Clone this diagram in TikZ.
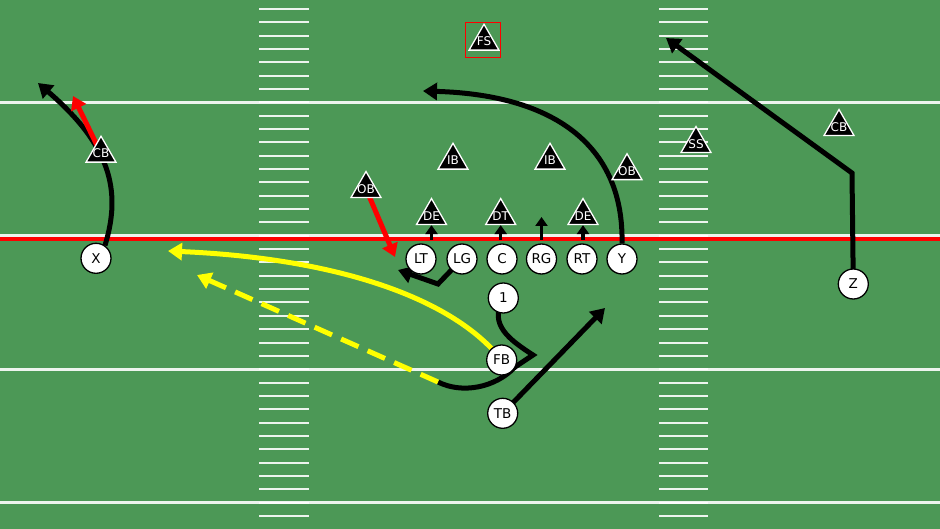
\documentclass[tikz,border=0pt]{standalone}
\usepackage{fontspec}
\setmainfont{DejaVu Sans}
\usetikzlibrary{arrows.meta,shapes.geometric}
\definecolor{grass}{RGB}{76,152,86}
\definecolor{ylw}{RGB}{255,255,0}
\definecolor{rd}{RGB}{255,0,0}
\pgfdeclarelayer{field}
\pgfdeclarelayer{routes}
\pgfsetlayers{field,routes,main}
\begin{document}
\begin{tikzpicture}[x=1pt,y=-1pt,
  player/.style={circle,draw=black,line width=1.3pt,fill=white,minimum size=30pt,inner sep=0pt,font=\fontsize{13.5}{13.5}\selectfont},
  defender/.style={regular polygon,regular polygon sides=3,draw=white,line width=1.3pt,fill=black,minimum size=34.5pt,inner sep=0pt},
  deftext/.style={text=white,inner sep=0pt,font=\fontsize{12}{12}\selectfont},
  route/.style={line width=5pt,draw=black,-{Triangle[length=14pt,width=17pt]}},
  plain/.style={line width=5pt,draw=black},
  redroute/.style={line width=5pt,draw=rd,-{Triangle[length=13pt,width=16pt]}},
  yroute/.style={line width=5pt,draw=ylw,-{Triangle[length=14pt,width=17pt]}},
  push/.style={line width=3.5pt,draw=black,-{Triangle[length=9pt,width=12pt]}},
  hash/.style={draw=white,line width=2pt,opacity=0.9},
  yard/.style={draw=white,line width=3pt,opacity=0.9}
]
\useasboundingbox (0,0) rectangle (940,529);
\clip (0,0) rectangle (940,529);
% players (offense)
\node[player] (x)  at (96,258.3) {X};
\node[player] (lt) at (421,259) {LT};
\node[player] (lg) at (462,259) {LG};
\node[player] (c)  at (502,259) {C};
\node[player] (rg) at (541.5,259) {RG};
\node[player] (rt) at (582,259) {RT};
\node[player] (y)  at (622,259) {Y};
\node[player] (z)  at (853.3,284) {Z};
\node[player] (qb) at (503.3,298) {1};
\node[player] (fb) at (501.7,360) {FB};
\node[player] (tb) at (502.7,413.3) {TB};

% defenders
\node[defender,label={[deftext]center:CB}] (cb1) at (101,153.5) {};
\node[defender,label={[deftext]center:FS}] (fs)  at (484,41.5) {};
\node[draw=rd,line width=1.5pt,minimum size=35pt,inner sep=0pt] (fsbox) at (483.2,40.2) {};
\node[defender,label={[deftext]center:IB}] (ib1) at (453,160.5) {};
\node[defender,label={[deftext]center:IB}] (ib2) at (550,160.5) {};
\node[defender,label={[deftext]center:OB}] (ob1) at (366,188.8) {};
\node[defender,label={[deftext]center:OB}] (ob2) at (627,171) {};
\node[defender,label={[deftext]center:SS}] (ss)  at (696,143.8) {};
\node[defender,label={[deftext]center:CB}] (cb2) at (839,126.8) {};
\node[defender,label={[deftext]center:DE}] (de1) at (431.5,215.8) {};
\node[defender,label={[deftext]center:DT}] (dt)  at (500.7,215.8) {};
\node[defender,label={[deftext]center:DE}] (de2) at (583,215.8) {};

% free route ends
\coordinate (xend) at (38,83);
\coordinate (cbend) at (73,96);
\coordinate (obend) at (395,257);
\coordinate (yend) at (423,91);
\coordinate (zturn) at (852,173);
\coordinate (zend) at (666,38);
\coordinate (tbend) at (605,308);
\coordinate (lgturn) at (438,284);
\coordinate (lgend) at (398,270);
\coordinate (qbturn) at (533,355);
\coordinate (qbback) at (515,367);
\coordinate (pa) at (438,382);
\coordinate (fbend) at (168,251);
\coordinate (paend) at (197,275);
\coordinate (los1) at (431.5,240);
\coordinate (los2) at (500.7,240);
\coordinate (los3) at (541.5,240);
\coordinate (los4) at (583,240);
\coordinate (rgend) at (541.5,217);

% field
\begin{pgfonlayer}{field}
\fill[grass] (-2,-2) rectangle (942,531);
\foreach \k in {3,...,41}{
  \pgfmathsetmacro\yy{-31+13.34*\k}
  \draw[hash] (259,\yy) -- (309,\yy);
  \draw[hash] (659,\yy) -- (708,\yy);
}
\foreach \yy in {102.4,235.8,369.2,502.6}{
  \draw[yard] (-2,\yy) -- (942,\yy);
}
\draw[rd,line width=4pt] (-2,239.3) -- (942,239.3);
\end{pgfonlayer}

% routes
\begin{pgfonlayer}{routes}
\draw[route] (x.55) .. controls (122,190) and (110,145) .. (xend);
\draw[redroute] (cb1.center) -- (cbend);
\draw[redroute] (ob1.center) -- (obend);
\draw[route] (y.north) .. controls (624,150) and (560,95) .. (yend);
\draw[route] (z.center) -- (zturn) -- (zend);
\draw[route] (tb.center) -- (tbend);
\draw[route] (lg.center) -- (lgturn) -- (lgend);
\draw[plain] (qb.center) .. controls (488,325) and (510,340) .. (qbturn) -- (qbback)
   .. controls (495,388) and (462,394) .. (pa);
\draw[yroute] (fb.center) .. controls (450,295) and (330,258) .. (fbend);
\draw[yroute,dash pattern=on 19pt off 10pt] (pa) -- (paend);
\draw[push] (los1) -- (de1.south);
\draw[push] (los2) -- (dt.south);
\draw[push] (los3) -- (rgend);
\draw[push] (los4) -- (de2.south);
\end{pgfonlayer}
\end{tikzpicture}
\end{document}
